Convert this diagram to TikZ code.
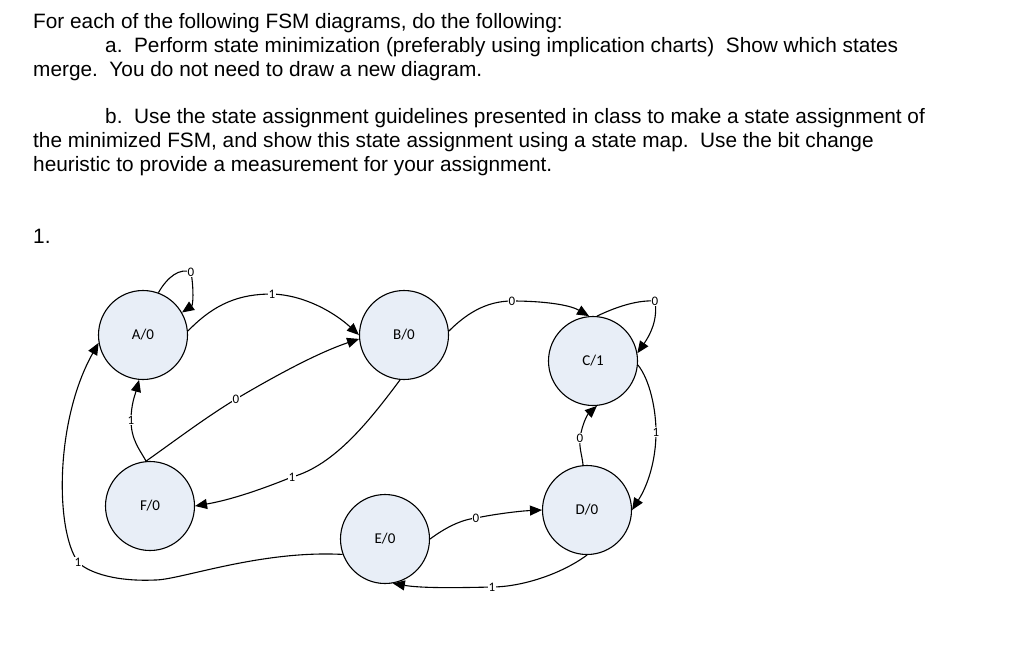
\documentclass[tikz,border=0pt]{standalone}
\usepackage{fontspec}
\setmainfont{Liberation Sans}
\newfontfamily\calfont{Carlito}
\usetikzlibrary{arrows.meta}
\begin{document}
\begin{tikzpicture}[x=1pt,y=-1pt,
  st/.style={circle,draw,line width=1.1pt,fill={rgb,255:red,232;green,238;blue,247},minimum size=89pt,inner sep=0pt,font=\calfont\fontsize{15}{15}\selectfont},
  ed/.style={line width=1.1pt,-{Triangle[length=12pt,width=10pt]}},
  lb/.style={fill=white,inner sep=0.5pt,font=\calfont\fontsize{13}{13}\selectfont},
  tx/.style={anchor=base west,inner sep=0pt,font=\fontsize{20.8}{20.8}\selectfont}]
\useasboundingbox (0,0) rectangle (1024,659);
\node[tx] (t1) at (33,28) {For each of the following FSM diagrams, do the following:};
\node[tx] (t2) at (105,52) {a.\ \ Perform state minimization (preferably using implication charts)\ \ Show which states};
\node[tx] (t3) at (33,76) {merge.\ \ You do not need to draw a new diagram.};
\node[tx] (t4) at (105,123) {b.\ \ Use the state assignment guidelines presented in class to make a state assignment of};
\node[tx] (t5) at (33,147) {the minimized FSM, and show this state assignment using a state map.\ \ Use the bit change};
\node[tx] (t6) at (33,171) {heuristic to provide a measurement for your assignment.};
\node[tx] (t7) at (33,243) {1.};
\node[st] (A) at (143,335) {A/0};
\node[st] (B) at (404,335) {B/0};
\node[st] (C) at (593,361) {C/1};
\node[st] (D) at (587,510) {D/0};
\node[st] (E) at (385,539) {E/0};
\node[st] (F) at (150,506) {F/0};
% A self loop
\draw[ed] (A.70) .. controls (168,276) and (180,268) .. (191,272) node[lb]{0} .. controls (194,290) and (193,305) .. (A.30);
% A->B
\draw[ed] (A.5) .. controls (215,303) and (240,294) .. (272,294) node[lb]{1} .. controls (305,295) and (335,313) .. (B.180);
% F->B
\draw[ed] (F.95) .. controls (180,437) and (205,418) .. (236,399) node[lb]{0} .. controls (280,373) and (320,352) .. (B.185);
% B->F
\draw[ed] (B.-95) .. controls (370,420) and (335,465) .. (292,477) node[lb]{1} .. controls (260,490) and (230,500) .. (F.0);
% F->A
\draw[ed] (F.95) .. controls (140,450) and (131,440) .. (131,420) node[lb]{1} .. controls (131,405) and (135,395) .. (A.-95);
% E->A
\draw[ed] (E.200) .. controls (260,550) and (180,580) .. (155,580) .. controls (110,582) and (85,570) .. (78,562) node[lb]{1} .. controls (55,530) and (55,420) .. (A.190);
% B->C
\draw[ed] (B.5) .. controls (465,315) and (485,301) .. (512,301) node[lb]{0} .. controls (545,301) and (570,305) .. (C.95);
% C self loop
\draw[ed] (C.85) .. controls (620,305) and (640,300) .. (655,301) node[lb]{0} .. controls (658,320) and (650,335) .. (C.10);
% C->D
\draw[ed] (C.-5) .. controls (650,380) and (656,410) .. (656,432) node[lb]{1} .. controls (656,460) and (648,485) .. (D.0);
% D->C
\draw[ed] (D.95) .. controls (582,455) and (579,448) .. (580,438) node[lb]{0} .. controls (582,425) and (587,415) .. (C.-85);
% E->D
\draw[ed] (E.0) .. controls (445,528) and (460,520) .. (476,518) node[lb]{0} .. controls (495,514) and (520,511) .. (D.180);
% D->E
\draw[ed] (D.-90) .. controls (560,575) and (520,587) .. (492,587) node[lb]{1} .. controls (450,588) and (420,588) .. (E.-80);
\end{tikzpicture}
\end{document}
